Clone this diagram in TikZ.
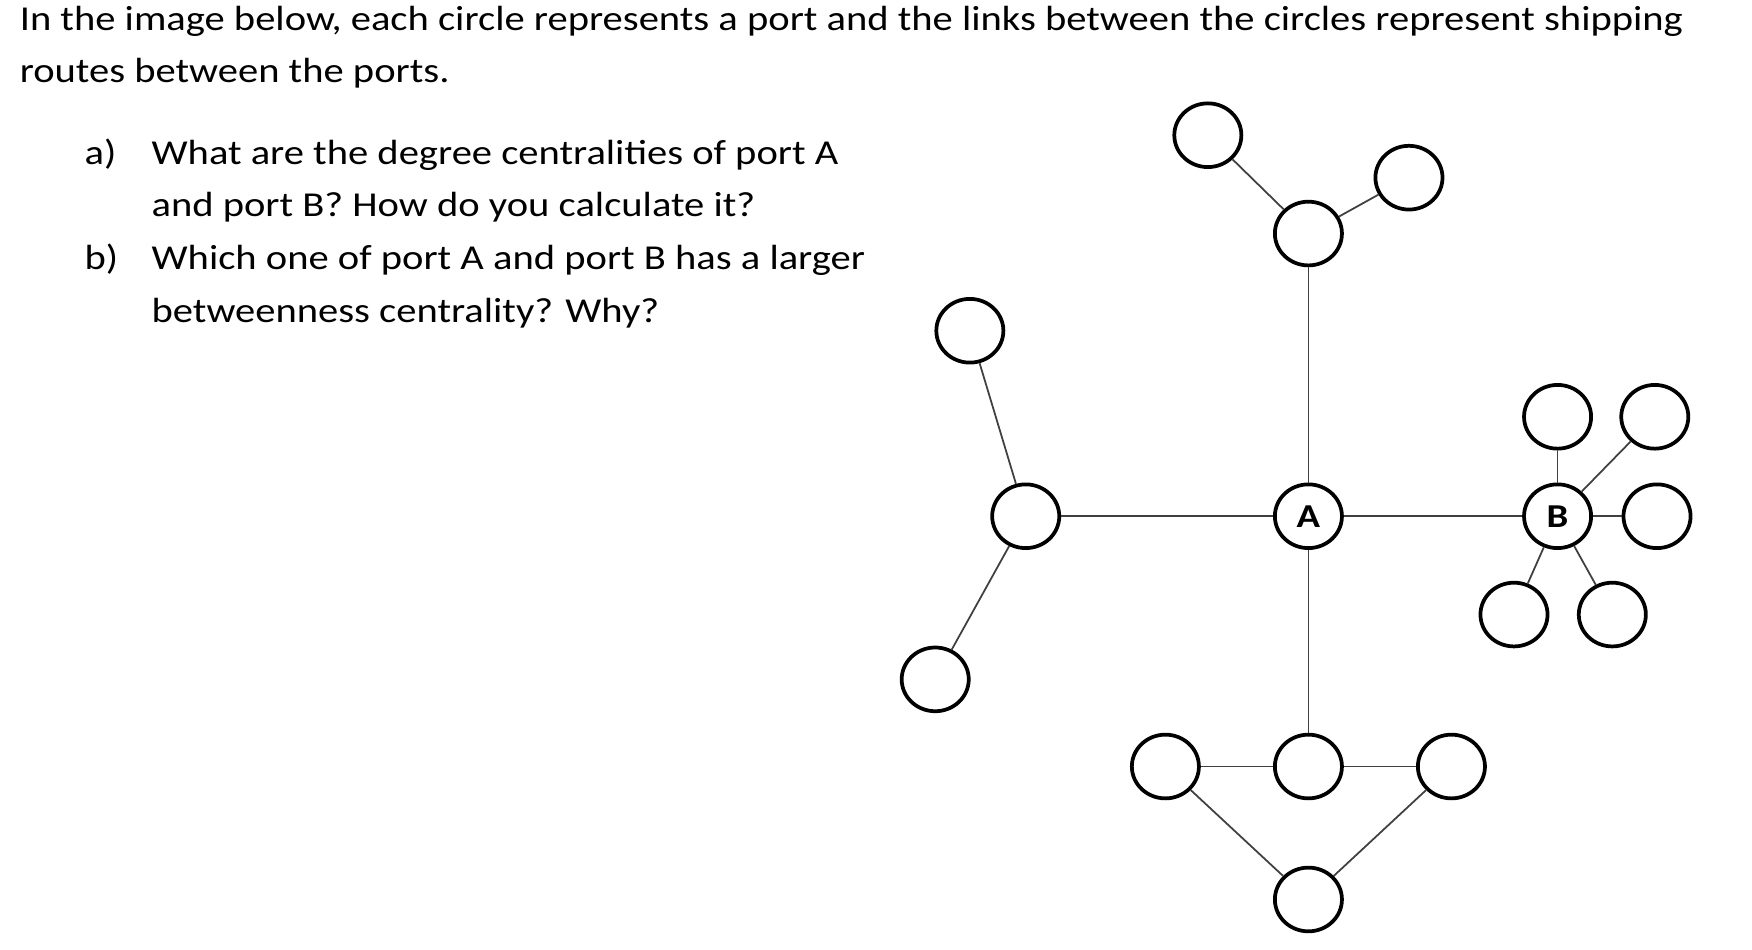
\documentclass[tikz,border=0pt]{standalone}
\usepackage{fontspec}
\usetikzlibrary{shapes.geometric}
\setmainfont{Carlito}[FakeStretch=1.16]
\begin{document}
\begin{tikzpicture}[x=0.01cm,y=-0.01cm,
  port/.style={draw=black,line width=0.95pt,ellipse,minimum width=0.6cm,minimum height=0.57cm,inner sep=0pt,font=\fontsize{8.5}{10}\selectfont\bfseries},
  link/.style={draw=black!75,line width=0.45pt},
  txt/.style={anchor=base west,inner sep=0pt,font=\fontsize{8.9}{10}\selectfont}]
\useasboundingbox (0,0) rectangle (1568,850);
\node[txt] (t1) at (17,27) {In the image below, each circle represents a port and the links between the circles represent shipping};
\node[txt] (t2) at (17,74) {routes between the ports.};
\node[txt] (la) at (75,147) {a)};
\node[txt] (a1) at (135,147) {What are the degree centralities of port A};
\node[txt] (a2) at (135,194) {and port B? How do you calculate it?};
\node[txt] (lb) at (75,241) {b)};
\node[txt] (b1) at (135,241) {Which one of port A and port B has a larger};
\node[txt] (b2) at (135,289) {betweenness centrality? Why?};
\node[port] (tl) at (1081,121) {};
\node[port] (tr) at (1261,159) {};
\node[port] (um) at (1171,209) {};
\node[port] (A) at (1171,462) {A};
\node[port] (lh) at (918,462) {};
\node[port] (lt) at (868,296) {};
\node[port] (lb2) at (837,608) {};
\node[port] (B) at (1394,462) {B};
\node[port] (b1n) at (1394,373) {};
\node[port] (b2n) at (1481,373) {};
\node[port] (b3n) at (1483,462) {};
\node[port] (b4n) at (1355,550) {};
\node[port] (b5n) at (1443,550) {};
\node[port] (bm) at (1171,686) {};
\node[port] (bl) at (1043,686) {};
\node[port] (br) at (1299,686) {};
\node[port] (bb) at (1171,805) {};
\draw[link] (tl) -- (um);
\draw[link] (tr) -- (um);
\draw[link] (um) -- (A);
\draw[link] (lt) -- (lh);
\draw[link] (lh) -- (lb2);
\draw[link] (lh) -- (A);
\draw[link] (A) -- (B);
\draw[link] (A) -- (bm);
\draw[link] (bl) -- (bm);
\draw[link] (bm) -- (br);
\draw[link] (bl) -- (bb);
\draw[link] (br) -- (bb);
\draw[link] (B) -- (b1n);
\draw[link] (B) -- (b2n);
\draw[link] (B) -- (b3n);
\draw[link] (B) -- (b4n);
\draw[link] (B) -- (b5n);
\end{tikzpicture}
\end{document}
